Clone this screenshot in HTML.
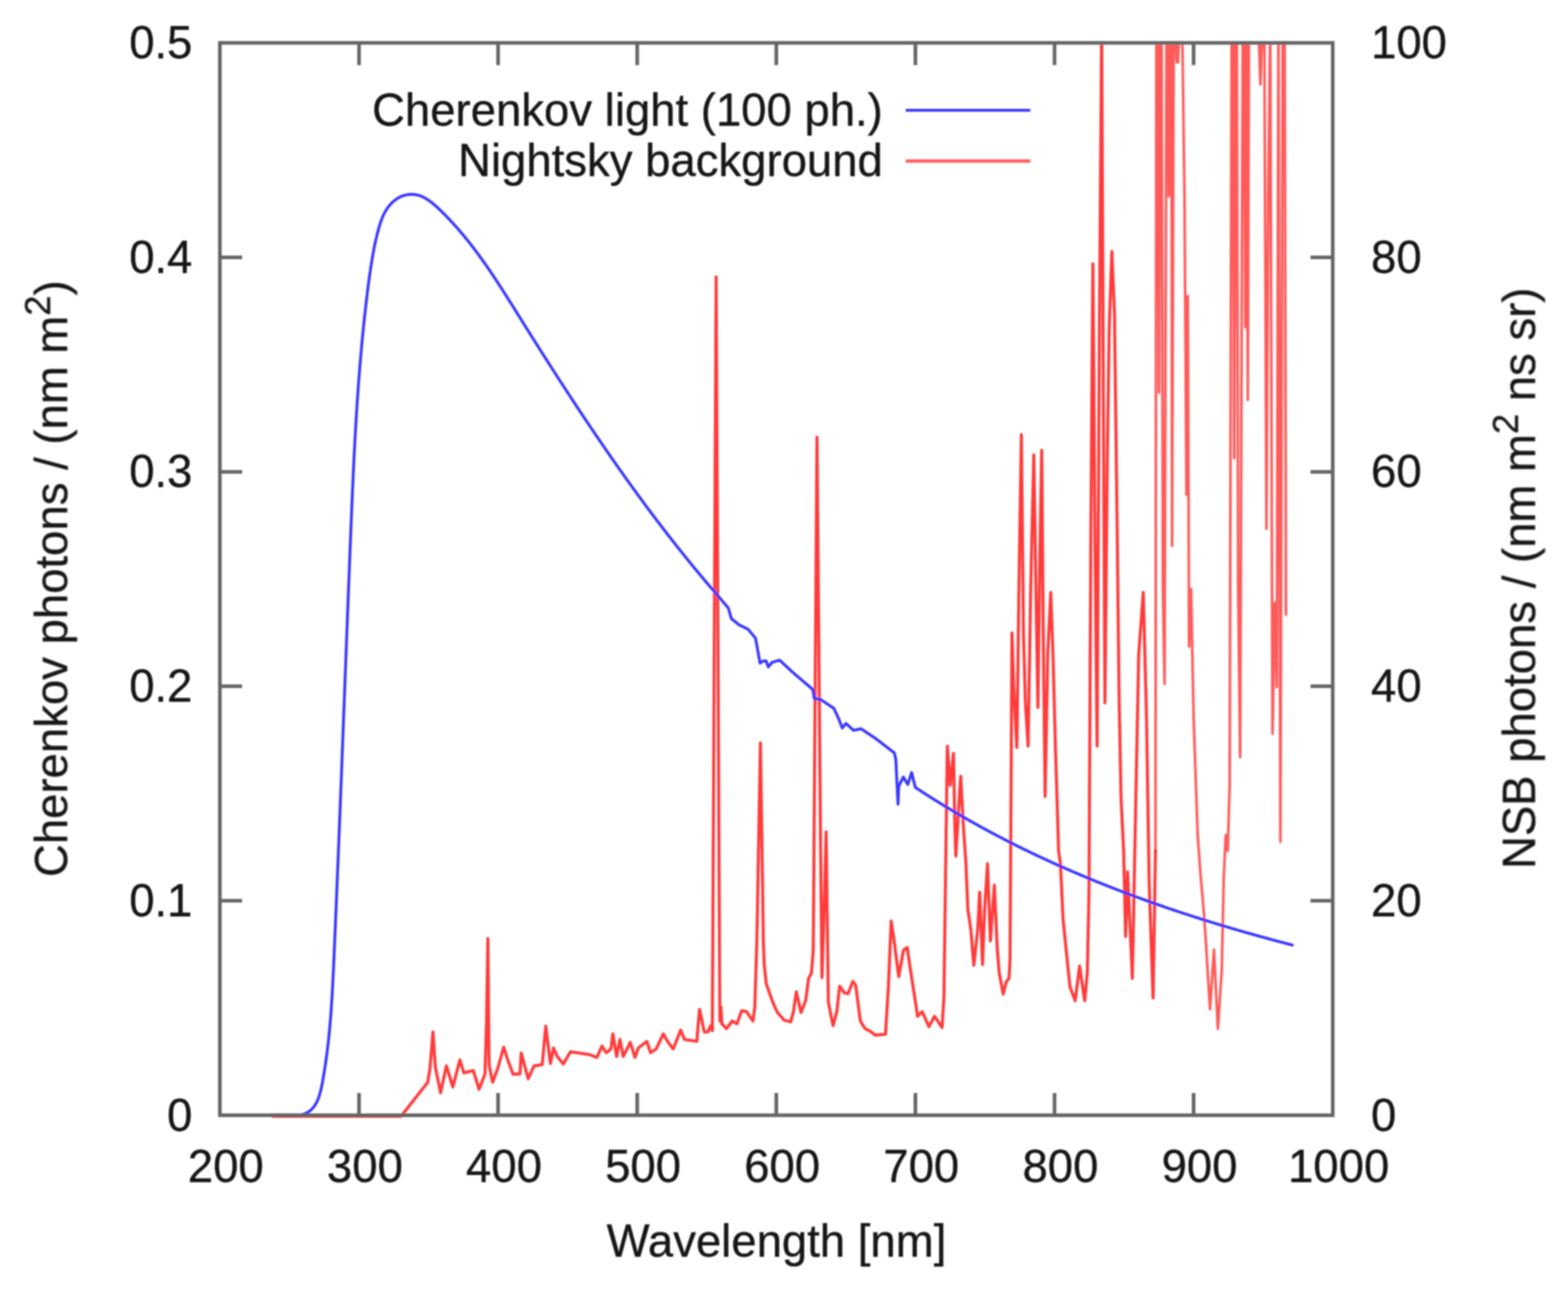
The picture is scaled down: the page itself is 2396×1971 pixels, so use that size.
<!DOCTYPE html>
<html><head><meta charset="utf-8"><title>Cherenkov light and nightsky background</title>
<style>
html,body{margin:0;padding:0;background:#fff;overflow:hidden;}
svg{display:block;}
text{font-family:"Liberation Sans",Arial,sans-serif;fill:#151515;stroke:#151515;stroke-width:0.5px;}
</style></head><body>
<svg width="2396" height="1971" viewBox="0 0 2396 1971">
<rect width="2396" height="1971" fill="#fff"/>
<defs><filter id="bl" x="0" y="0" width="2396" height="1971" filterUnits="userSpaceOnUse"><feGaussianBlur stdDeviation="1.2"/></filter><clipPath id="plot"><rect x="336.0" y="65.5" width="1700.5" height="1642.5"/></clipPath></defs>

<g filter="url(#bl)">
<g clip-path="url(#plot)" fill="none" stroke-linejoin="round" stroke-linecap="round">
<polyline points="417.0,1706.0 612.5,1706.0 653.6,1653.6 657.1,1632.0 661.6,1576.8 665.2,1630.4 673.2,1669.6 682.1,1628.6 692.0,1660.7 702.7,1619.6 708.9,1639.3 723.2,1635.7 732.1,1664.3 741.1,1641.0 743.5,1560.0 745.5,1433.9 747.3,1626.8 752.7,1653.6 760.7,1632.1 769.6,1600.0 775.9,1619.6 783.9,1641.1 794.6,1641.0 796.4,1608.9 807.1,1648.2 816.0,1628.6 828.6,1626.8 833.9,1567.9 841.1,1625.0 845.8,1601.2 851.5,1614.2 860.9,1625.7 871.7,1607.0 900.5,1611.3 912.0,1615.6 919.9,1598.3 926.4,1608.4 933.6,1602.7 936.5,1579.6 942.2,1614.2 947.3,1588.2 952.3,1614.2 963.1,1592.6 970.3,1615.6 975.4,1601.2 988.3,1591.1 994.1,1608.4 1002.7,1602.7 1013.5,1579.6 1020.0,1591.1 1028.7,1602.7 1040.2,1573.8 1045.9,1588.2 1064.7,1591.1 1069.0,1542.2 1076.2,1576.7 1081.9,1576.7 1085.8,1567.2 1088.5,1575.0 1094.3,423.0 1100.0,1560.0 1101.6,1538.4 1103.0,1564.3 1110.2,1571.5 1118.9,1560.0 1126.1,1564.3 1133.3,1544.2 1140.5,1545.6 1150.6,1560.0 1153.4,1538.4 1156.5,1437.6 1162.0,1135.0 1166.5,1440.0 1167.8,1473.6 1170.7,1502.4 1180.8,1531.2 1188.0,1547.0 1198.1,1558.6 1208.2,1561.4 1212.5,1545.6 1216.8,1515.4 1224.0,1547.0 1231.2,1528.3 1235.5,1495.2 1239.9,1486.6 1242.7,1452.0 1248.4,668.0 1254.0,1300.0 1256.0,1493.8 1259.0,1400.0 1262.4,1271.0 1265.8,1531.2 1273.0,1567.2 1278.7,1545.6 1283.0,1506.7 1290.2,1516.8 1296.0,1518.2 1303.2,1499.5 1307.5,1505.3 1314.7,1560.0 1321.9,1571.5 1330.0,1575.9 1337.3,1581.6 1353.1,1580.2 1357.4,1509.6 1361.8,1407.4 1366.1,1436.2 1373.3,1492.3 1380.5,1452.0 1386.2,1447.7 1390.6,1477.9 1397.8,1524.0 1402.1,1552.8 1409.3,1545.6 1419.4,1568.7 1428.0,1552.8 1439.5,1570.1 1442.4,1524.0 1445.3,1300.0 1447.6,1140.0 1452.0,1200.0 1457.0,1151.0 1459.0,1258.0 1460.5,1308.0 1464.0,1250.0 1468.0,1186.0 1472.0,1260.0 1476.0,1320.0 1479.0,1390.0 1483.5,1420.0 1488.0,1475.0 1494.0,1420.0 1497.0,1363.0 1501.4,1473.7 1504.4,1392.8 1509.0,1319.5 1513.4,1437.8 1519.4,1352.4 1523.9,1449.7 1526.9,1487.0 1532.9,1518.6 1537.4,1500.7 1541.9,1494.7 1543.4,1464.7 1546.4,967.0 1549.0,1050.0 1553.8,1142.0 1557.0,900.0 1560.7,664.0 1564.0,972.0 1567.0,1075.0 1571.0,1140.0 1575.0,900.0 1579.7,695.0 1583.0,900.0 1586.0,1081.0 1589.0,850.0 1591.8,688.0 1594.0,950.0 1597.0,1217.0 1601.0,1000.0 1605.6,905.0 1609.0,1000.0 1613.0,1150.0 1617.6,1300.0 1620.4,1320.0 1624.4,1404.0 1628.4,1444.0 1635.0,1508.0 1643.0,1529.0 1649.6,1476.0 1657.5,1529.0 1661.5,1486.0 1664.0,1365.0 1667.0,800.0 1670.0,403.0 1673.0,800.0 1676.4,1140.0 1680.0,500.0 1683.4,40.0 1686.0,600.0 1688.4,1074.0 1692.0,700.0 1695.0,500.0 1699.0,384.0 1703.0,480.0 1707.0,800.0 1710.0,1061.0 1713.0,1219.0 1717.0,1300.0 1720.0,1431.0 1723.0,1332.0 1727.0,1420.0 1730.3,1495.0 1736.0,1200.0 1740.0,1000.0 1747.0,905.0 1752.0,1100.0 1756.0,1350.0 1762.0,1525.0 1765.6,1300.0" stroke="#ff1c1c" stroke-width="4.6" stroke-opacity="0.88"/>
<polyline points="1765.6,1300.0 1767.0,40.0 1769.5,40.0 1771.0,600.0 1773.0,40.0 1775.0,40.0 1777.0,900.0 1779.5,1045.0 1781.0,500.0 1782.5,40.0 1784.5,40.0 1786.0,300.0 1787.4,40.0 1788.5,296.0 1790.0,40.0 1791.0,834.0 1793.5,40.0 1796.0,40.0 1798.0,95.0 1800.0,95.0 1802.0,40.0 1805.0,40.0 1807.0,76.0 1810.0,300.0 1813.0,756.0 1815.0,452.0 1817.0,988.0 1820.0,900.0 1824.0,1100.0 1830.0,1273.0 1834.0,1330.0 1840.0,1400.0 1843.0,1445.0 1849.0,1542.0 1855.0,1451.0 1861.0,1572.0 1867.0,1481.0 1870.0,1340.0 1873.0,1276.0 1876.0,1300.0 1879.0,1200.0 1882.0,40.0 1884.0,40.0 1886.0,700.0 1888.0,40.0 1890.0,40.0 1892.0,900.0 1895.0,1157.0 1897.0,600.0 1899.0,40.0 1901.0,40.0 1903.0,500.0 1905.0,40.0 1906.7,611.0 1908.5,40.0 1923.0,40.0 1926.0,129.0 1929.0,40.0 1932.0,40.0 1935.2,808.0 1938.0,300.0 1941.0,40.0 1944.5,1121.0 1948.0,921.0 1951.0,1050.0 1953.5,40.0 1956.5,1286.0 1960.0,40.0 1963.0,40.0 1965.0,939.0" stroke="#ff1c1c" stroke-width="4.0" stroke-opacity="0.72"/>
<polyline points="417.0,1703.8 418.0,1703.7 419.3,1703.8 420.7,1703.8 422.1,1703.8 423.6,1703.8 425.1,1703.8 426.6,1703.8 428.1,1703.8 429.7,1703.8 431.2,1703.8 432.8,1703.8 434.4,1703.8 436.1,1703.8 437.7,1703.8 439.3,1703.8 440.9,1703.8 442.6,1703.8 444.2,1703.8 445.9,1703.8 447.5,1703.8 449.1,1703.8 450.7,1703.8 452.3,1703.8 453.9,1703.8 455.4,1703.8 457.0,1703.8 458.5,1703.8 460.0,1703.6 461.4,1703.2 462.9,1702.7 464.2,1702.3 465.6,1701.7 466.9,1701.2 468.2,1700.6 469.4,1699.9 470.6,1699.2 471.8,1698.5 472.9,1697.7 473.9,1696.9 475.0,1696.1 475.9,1695.2 476.9,1694.2 477.8,1693.3 478.6,1692.3 479.5,1691.2 480.3,1690.2 481.0,1689.1 481.8,1687.9 482.5,1686.8 483.1,1685.6 483.8,1684.4 484.4,1683.1 485.0,1681.9 485.5,1680.6 486.1,1679.3 486.6,1677.9 487.1,1676.6 487.6,1675.2 488.0,1673.8 488.4,1672.4 488.8,1671.0 489.2,1669.5 489.6,1668.1 490.0,1666.6 490.3,1665.1 490.7,1663.7 491.0,1662.2 491.3,1660.7 491.6,1659.2 491.9,1657.7 492.2,1656.1 492.5,1654.6 492.8,1653.1 493.1,1651.6 493.3,1650.1 493.6,1648.6 493.9,1647.0 494.1,1645.5 494.4,1644.0 494.6,1642.5 494.9,1641.0 495.2,1639.5 495.4,1637.9 495.6,1636.4 495.9,1634.9 496.1,1633.4 496.4,1631.9 496.6,1630.4 496.8,1628.9 497.1,1627.3 497.3,1625.8 497.5,1624.3 497.7,1622.8 497.9,1621.3 498.1,1619.8 498.4,1618.3 498.6,1616.8 498.8,1615.3 499.0,1613.8 499.2,1612.2 499.4,1610.7 499.6,1609.2 499.8,1607.7 500.0,1606.2 500.1,1604.7 500.3,1603.2 500.5,1601.7 500.7,1600.2 500.9,1598.7 501.0,1597.2 501.2,1595.7 501.4,1594.2 501.6,1592.7 501.7,1591.2 501.9,1589.7 502.1,1588.2 502.2,1586.6 502.4,1585.1 502.5,1583.6 502.7,1582.1 502.8,1580.6 503.0,1579.1 503.1,1577.6 503.3,1576.1 503.4,1574.6 503.6,1573.1 503.7,1571.6 503.8,1570.1 504.0,1568.6 504.1,1567.1 504.2,1565.6 504.4,1564.1 504.5,1562.6 504.6,1561.1 504.8,1559.6 504.9,1558.1 505.0,1556.6 505.1,1555.1 505.2,1553.6 505.4,1552.1 505.5,1550.6 505.6,1549.1 505.7,1547.6 505.8,1546.2 505.9,1544.7 506.0,1543.2 506.1,1541.7 506.2,1540.2 506.3,1538.7 506.4,1537.2 506.5,1535.7 506.6,1534.2 506.7,1532.7 506.8,1531.2 506.9,1529.7 507.0,1528.2 507.1,1526.7 507.2,1525.2 507.3,1523.7 507.4,1522.2 507.5,1520.7 507.6,1519.2 507.7,1517.7 507.7,1516.2 507.8,1514.7 507.9,1513.3 508.0,1511.8 508.1,1510.3 508.2,1508.8 508.2,1507.3 508.3,1505.8 508.4,1504.3 508.5,1502.8 508.5,1501.3 508.6,1499.8 508.7,1498.3 508.8,1496.8 508.8,1495.3 508.9,1493.8 509.0,1492.3 509.1,1490.9 509.1,1489.4 509.2,1487.9 509.3,1486.4 509.4,1484.9 509.4,1483.4 509.5,1481.9 509.6,1480.4 509.6,1478.9 509.7,1477.4 509.8,1475.9 509.8,1474.4 509.9,1472.9 510.0,1471.4 510.0,1470.0 510.1,1468.5 510.2,1467.0 510.2,1465.5 510.3,1464.0 510.4,1462.5 510.4,1461.0 510.5,1459.5 510.6,1458.0 510.6,1456.5 510.7,1455.0 510.7,1453.5 510.8,1452.0 510.9,1450.5 510.9,1449.1 511.0,1447.6 511.1,1446.1 511.1,1444.6 511.2,1443.1 511.3,1441.6 511.3,1440.1 511.4,1438.6 511.5,1437.1 511.5,1435.6 511.6,1434.1 511.7,1432.6 511.7,1431.1 511.8,1429.6 511.8,1428.1 511.9,1426.7 512.0,1425.2 512.0,1423.7 512.1,1422.2 512.2,1420.7 512.2,1419.2 512.3,1417.7 512.4,1416.2 512.4,1414.7 512.5,1413.2 512.5,1411.7 512.6,1410.2 512.7,1408.7 512.7,1407.2 512.8,1405.7 512.9,1404.2 512.9,1402.7 513.0,1401.3 513.0,1399.8 513.1,1398.3 513.2,1396.8 513.2,1395.3 513.3,1393.8 513.4,1392.3 513.4,1390.8 513.5,1389.3 513.6,1387.8 513.6,1386.3 513.7,1384.8 513.7,1383.3 513.8,1381.8 513.9,1380.3 513.9,1378.8 514.0,1377.3 514.1,1375.8 514.1,1374.4 514.2,1372.9 514.2,1371.4 514.3,1369.9 514.4,1368.4 514.4,1366.9 514.5,1365.4 514.5,1363.9 514.6,1362.4 514.7,1360.9 514.7,1359.4 514.8,1357.9 514.9,1356.4 514.9,1354.9 515.0,1353.4 515.0,1351.9 515.1,1350.4 515.2,1348.9 515.2,1347.4 515.3,1345.9 515.3,1344.4 515.4,1343.0 515.5,1341.5 515.5,1340.0 515.6,1338.5 515.7,1337.0 515.7,1335.5 515.8,1334.0 515.8,1332.5 515.9,1331.0 516.0,1329.5 516.0,1328.0 516.1,1326.5 516.1,1325.0 516.2,1323.5 516.3,1322.0 516.3,1320.5 516.4,1319.0 516.4,1317.5 516.5,1316.0 516.6,1314.5 516.6,1313.0 516.7,1311.5 516.7,1310.0 516.8,1308.6 516.9,1307.1 516.9,1305.6 517.0,1304.1 517.0,1302.6 517.1,1301.1 517.2,1299.6 517.2,1298.1 517.3,1296.6 517.3,1295.1 517.4,1293.6 517.5,1292.1 517.5,1290.6 517.6,1289.1 517.6,1287.6 517.7,1286.1 517.8,1284.6 517.8,1283.1 517.9,1281.6 517.9,1280.1 518.0,1278.6 518.1,1277.1 518.1,1275.6 518.2,1274.1 518.2,1272.6 518.3,1271.1 518.4,1269.6 518.4,1268.1 518.5,1266.7 518.5,1265.2 518.6,1263.7 518.7,1262.2 518.7,1260.7 518.8,1259.2 518.8,1257.7 518.9,1256.2 519.0,1254.7 519.0,1253.2 519.1,1251.7 519.1,1250.2 519.2,1248.7 519.2,1247.2 519.3,1245.7 519.4,1244.2 519.4,1242.7 519.5,1241.2 519.5,1239.7 519.6,1238.2 519.7,1236.7 519.7,1235.2 519.8,1233.7 519.8,1232.2 519.9,1230.7 520.0,1229.2 520.0,1227.7 520.1,1226.2 520.1,1224.7 520.2,1223.2 520.2,1221.7 520.3,1220.2 520.4,1218.7 520.4,1217.2 520.5,1215.7 520.5,1214.2 520.6,1212.8 520.7,1211.3 520.7,1209.8 520.8,1208.3 520.8,1206.8 520.9,1205.3 520.9,1203.8 521.0,1202.3 521.1,1200.8 521.1,1199.3 521.2,1197.8 521.2,1196.3 521.3,1194.8 521.4,1193.3 521.4,1191.8 521.5,1190.3 521.5,1188.8 521.6,1187.3 521.6,1185.8 521.7,1184.3 521.8,1182.8 521.8,1181.3 521.9,1179.8 521.9,1178.3 522.0,1176.8 522.0,1175.3 522.1,1173.8 522.2,1172.3 522.2,1170.8 522.3,1169.3 522.3,1167.8 522.4,1166.3 522.4,1164.8 522.5,1163.3 522.6,1161.8 522.6,1160.3 522.7,1158.8 522.7,1157.3 522.8,1155.8 522.9,1154.3 522.9,1152.8 523.0,1151.3 523.0,1149.8 523.1,1148.3 523.1,1146.8 523.2,1145.3 523.3,1143.8 523.3,1142.3 523.4,1140.8 523.4,1139.3 523.5,1137.8 523.5,1136.4 523.6,1134.9 523.7,1133.4 523.7,1131.9 523.8,1130.4 523.8,1128.9 523.9,1127.4 523.9,1125.9 524.0,1124.4 524.1,1122.9 524.1,1121.4 524.2,1119.9 524.2,1118.4 524.3,1116.9 524.3,1115.4 524.4,1113.9 524.5,1112.4 524.5,1110.9 524.6,1109.4 524.6,1107.9 524.7,1106.4 524.7,1104.9 524.8,1103.4 524.9,1101.9 524.9,1100.4 525.0,1098.9 525.0,1097.4 525.1,1095.9 525.1,1094.4 525.2,1092.9 525.3,1091.4 525.3,1089.9 525.4,1088.4 525.4,1086.9 525.5,1085.4 525.5,1083.9 525.6,1082.4 525.7,1080.9 525.7,1079.4 525.8,1077.9 525.8,1076.4 525.9,1074.9 525.9,1073.4 526.0,1071.9 526.1,1070.4 526.1,1068.9 526.2,1067.4 526.2,1065.9 526.3,1064.4 526.3,1062.9 526.4,1061.4 526.5,1059.9 526.5,1058.4 526.6,1056.9 526.6,1055.4 526.7,1053.9 526.7,1052.4 526.8,1050.9 526.9,1049.4 526.9,1047.9 527.0,1046.4 527.0,1044.9 527.1,1043.4 527.1,1041.9 527.2,1040.4 527.3,1038.9 527.3,1037.4 527.4,1035.9 527.4,1034.4 527.5,1032.9 527.5,1031.4 527.6,1029.9 527.7,1028.4 527.7,1026.9 527.8,1025.4 527.8,1023.9 527.9,1022.4 527.9,1020.9 528.0,1019.4 528.1,1017.9 528.1,1016.4 528.2,1014.9 528.2,1013.4 528.3,1011.9 528.3,1010.4 528.4,1008.9 528.5,1007.4 528.5,1005.9 528.6,1004.4 528.6,1002.9 528.7,1001.4 528.7,999.9 528.8,998.4 528.9,996.9 528.9,995.4 529.0,993.9 529.0,992.4 529.1,990.9 529.1,989.4 529.2,987.9 529.3,986.4 529.3,984.9 529.4,983.4 529.4,981.9 529.5,980.4 529.6,978.9 529.6,977.4 529.7,975.9 529.7,974.4 529.8,972.9 529.8,971.4 529.9,969.9 530.0,968.4 530.0,966.9 530.1,965.5 530.1,964.0 530.2,962.5 530.2,961.0 530.3,959.5 530.4,958.0 530.4,956.5 530.5,955.0 530.5,953.5 530.6,952.0 530.6,950.5 530.7,949.0 530.8,947.5 530.8,946.0 530.9,944.5 530.9,943.0 531.0,941.5 531.0,940.0 531.1,938.5 531.2,937.0 531.2,935.5 531.3,934.0 531.3,932.5 531.4,931.0 531.5,929.5 531.5,928.0 531.6,926.5 531.6,925.0 531.7,923.5 531.7,922.0 531.8,920.5 531.9,919.0 531.9,917.5 532.0,916.0 532.0,914.5 532.1,913.0 532.1,911.5 532.2,910.0 532.3,908.5 532.3,907.0 532.4,905.5 532.4,904.0 532.5,902.5 532.6,901.0 532.6,899.5 532.7,898.0 532.7,896.5 532.8,895.0 532.8,893.5 532.9,892.0 533.0,890.5 533.0,889.0 533.1,887.5 533.1,886.0 533.2,884.5 533.3,883.0 533.3,881.5 533.4,880.0 533.4,878.5 533.5,877.0 533.6,875.5 533.6,874.0 533.7,872.5 533.7,871.0 533.8,869.5 533.8,868.0 533.9,866.5 534.0,865.0 534.0,863.5 534.1,862.0 534.1,860.5 534.2,859.0 534.3,857.5 534.3,856.0 534.4,854.5 534.4,853.0 534.5,851.5 534.6,850.0 534.6,848.5 534.7,847.0 534.7,845.5 534.8,844.0 534.8,842.5 534.9,841.0 535.0,839.5 535.0,838.0 535.1,836.5 535.1,835.0 535.2,833.5 535.3,832.0 535.3,830.5 535.4,829.0 535.4,827.5 535.5,826.0 535.6,824.5 535.6,823.0 535.7,821.5 535.7,820.0 535.8,818.5 535.9,817.0 535.9,815.5 536.0,814.0 536.0,812.5 536.1,811.0 536.2,809.5 536.2,808.0 536.3,806.5 536.3,805.0 536.4,803.5 536.5,802.0 536.5,800.5 536.6,799.0 536.6,797.5 536.7,796.0 536.8,794.5 536.8,793.0 536.9,791.5 537.0,790.0 537.0,788.5 537.1,787.0 537.1,785.5 537.2,784.0 537.3,782.5 537.3,781.0 537.4,779.5 537.4,778.0 537.5,776.5 537.6,775.0 537.6,773.5 537.7,772.0 537.8,770.5 537.8,769.0 537.9,767.5 537.9,766.0 538.0,764.5 538.1,763.0 538.1,761.5 538.2,760.0 538.3,758.5 538.3,757.0 538.4,755.5 538.5,754.0 538.5,752.5 538.6,751.0 538.7,749.5 538.7,748.0 538.8,746.5 538.9,745.0 538.9,743.5 539.0,742.0 539.1,740.5 539.1,739.0 539.2,737.5 539.3,736.0 539.3,734.5 539.4,733.0 539.5,731.5 539.5,730.0 539.6,728.5 539.7,727.1 539.7,725.6 539.8,724.1 539.9,722.6 539.9,721.1 540.0,719.6 540.1,718.1 540.2,716.6 540.2,715.1 540.3,713.6 540.4,712.1 540.4,710.6 540.5,709.1 540.6,707.6 540.7,706.1 540.7,704.6 540.8,703.1 540.9,701.6 541.0,700.1 541.0,698.6 541.1,697.1 541.2,695.6 541.3,694.1 541.3,692.6 541.4,691.1 541.5,689.6 541.6,688.1 541.6,686.6 541.7,685.1 541.8,683.6 541.9,682.1 542.0,680.6 542.0,679.1 542.1,677.6 542.2,676.1 542.3,674.6 542.3,673.1 542.4,671.6 542.5,670.1 542.6,668.6 542.7,667.2 542.8,665.7 542.8,664.2 542.9,662.7 543.0,661.2 543.1,659.7 543.2,658.2 543.3,656.7 543.4,655.2 543.4,653.7 543.5,652.2 543.6,650.7 543.7,649.2 543.8,647.7 543.9,646.2 544.0,644.7 544.1,643.2 544.1,641.7 544.2,640.2 544.3,638.7 544.4,637.2 544.5,635.7 544.6,634.2 544.7,632.7 544.8,631.3 544.9,629.8 545.0,628.3 545.1,626.8 545.2,625.3 545.3,623.8 545.4,622.3 545.5,620.8 545.5,619.3 545.6,617.8 545.7,616.3 545.8,614.8 545.9,613.3 546.0,611.8 546.1,610.3 546.2,608.8 546.3,607.3 546.5,605.8 546.6,604.4 546.7,602.9 546.8,601.4 546.9,599.9 547.0,598.4 547.1,596.9 547.2,595.4 547.3,593.9 547.4,592.4 547.5,590.9 547.6,589.4 547.7,587.9 547.8,586.4 547.9,584.9 548.1,583.4 548.2,582.0 548.3,580.5 548.4,579.0 548.5,577.5 548.6,576.0 548.7,574.5 548.9,573.0 549.0,571.5 549.1,570.0 549.2,568.5 549.3,567.0 549.4,565.5 549.6,564.0 549.7,562.6 549.8,561.1 549.9,559.6 550.0,558.1 550.2,556.6 550.3,555.1 550.4,553.6 550.5,552.1 550.7,550.6 550.8,549.1 550.9,547.6 551.0,546.2 551.2,544.7 551.3,543.2 551.4,541.7 551.6,540.2 551.7,538.7 551.8,537.2 552.0,535.7 552.1,534.2 552.2,532.7 552.4,531.3 552.5,529.8 552.6,528.3 552.8,526.8 552.9,525.3 553.1,523.8 553.2,522.3 553.3,520.8 553.5,519.3 553.6,517.8 553.8,516.4 553.9,514.9 554.0,513.4 554.2,511.9 554.3,510.4 554.5,508.9 554.6,507.4 554.8,505.9 554.9,504.5 555.1,503.0 555.2,501.5 555.4,500.0 555.5,498.5 555.7,497.0 555.8,495.5 556.0,494.0 556.2,492.6 556.3,491.1 556.5,489.6 556.6,488.1 556.8,486.6 556.9,485.1 557.1,483.6 557.3,482.1 557.4,480.7 557.6,479.2 557.8,477.7 557.9,476.2 558.1,474.7 558.3,473.2 558.4,471.7 558.6,470.3 558.8,468.8 558.9,467.3 559.1,465.8 559.3,464.3 559.5,462.8 559.6,461.3 559.8,459.9 560.0,458.4 560.2,456.9 560.3,455.4 560.5,453.9 560.7,452.4 560.9,451.0 561.1,449.5 561.2,448.0 561.4,446.5 561.6,445.0 561.8,443.5 562.0,442.1 562.2,440.6 562.4,439.1 562.5,437.6 562.7,436.1 562.9,434.6 563.1,433.2 563.3,431.7 563.5,430.2 563.7,428.7 563.9,427.2 564.1,425.7 564.3,424.3 564.5,422.8 564.7,421.3 564.9,419.8 565.1,418.3 565.3,416.9 565.6,415.4 565.8,413.9 566.0,412.4 566.2,410.9 566.4,409.5 566.7,408.0 566.9,406.5 567.1,405.0 567.3,403.5 567.6,402.0 567.8,400.6 568.1,399.1 568.3,397.6 568.6,396.1 568.8,394.6 569.1,393.2 569.3,391.7 569.6,390.2 569.8,388.7 570.1,387.2 570.4,385.7 570.7,384.3 571.0,382.8 571.2,381.3 571.5,379.8 571.8,378.3 572.1,376.9 572.4,375.4 572.7,373.9 573.0,372.4 573.4,370.9 573.7,369.4 574.0,368.0 574.3,366.5 574.7,365.0 575.0,363.5 575.4,362.0 575.7,360.5 576.1,359.1 576.4,357.6 576.8,356.1 577.2,354.6 577.6,353.1 578.0,351.6 578.4,350.1 578.8,348.7 579.2,347.2 579.6,345.7 580.1,344.3 580.5,342.8 581.0,341.3 581.5,339.9 582.0,338.5 582.5,337.0 583.0,335.6 583.6,334.2 584.1,332.8 584.7,331.4 585.3,330.0 585.9,328.7 586.6,327.3 587.3,326.0 588.0,324.7 588.7,323.4 589.4,322.1 590.2,320.8 591.0,319.5 591.9,318.3 592.7,317.1 593.6,315.9 594.5,314.7 595.5,313.6 596.5,312.4 597.5,311.3 598.5,310.3 599.6,309.2 600.7,308.2 601.8,307.2 603.0,306.3 604.2,305.4 605.4,304.5 606.6,303.6 607.9,302.9 609.2,302.1 610.5,301.4 611.8,300.7 613.1,300.1 614.5,299.6 615.9,299.1 617.3,298.6 618.7,298.2 620.1,297.9 621.5,297.6 623.0,297.4 624.4,297.2 625.9,297.0 627.3,297.0 628.8,296.9 630.2,297.0 631.7,297.0 633.1,297.2 634.5,297.4 636.0,297.6 637.4,297.9 638.7,298.2 640.1,298.6 641.5,299.0 642.8,299.5 644.1,300.0 645.4,300.6 646.7,301.2 648.0,301.8 649.3,302.5 650.6,303.2 651.8,304.0 653.1,304.8 654.3,305.6 655.5,306.4 656.7,307.3 657.9,308.2 659.1,309.1 660.3,310.0 661.5,311.0 662.6,312.0 663.8,312.9 664.9,314.0 666.1,315.0 667.2,316.0 668.3,317.0 669.5,318.1 670.6,319.2 671.7,320.2 672.8,321.3 673.9,322.3 675.0,323.4 676.1,324.5 677.2,325.6 678.2,326.7 679.3,327.7 680.4,328.8 681.5,329.9 682.5,331.0 683.6,332.1 684.7,333.2 685.7,334.3 686.8,335.4 687.8,336.5 688.8,337.6 689.9,338.7 690.9,339.8 691.9,340.9 693.0,342.1 694.0,343.2 695.0,344.3 696.0,345.4 697.0,346.6 698.0,347.7 699.0,348.8 700.0,350.0 701.0,351.1 702.0,352.3 703.0,353.4 703.9,354.5 704.9,355.7 705.9,356.8 706.9,358.0 707.8,359.2 708.8,360.3 709.7,361.5 710.7,362.6 711.6,363.8 712.6,365.0 713.5,366.1 714.5,367.3 715.4,368.5 716.4,369.6 717.3,370.8 718.2,372.0 719.1,373.2 720.1,374.4 721.0,375.6 721.9,376.7 722.8,377.9 723.7,379.1 724.6,380.3 725.5,381.5 726.4,382.7 727.3,383.9 728.2,385.1 729.1,386.3 730.0,387.5 730.9,388.7 731.8,389.9 732.7,391.1 733.6,392.3 734.4,393.6 735.3,394.8 736.2,396.0 737.0,397.2 737.9,398.4 738.8,399.6 739.6,400.9 740.5,402.1 741.4,403.3 742.2,404.5 743.1,405.8 743.9,407.0 744.8,408.2 745.6,409.4 746.5,410.7 747.3,411.9 748.2,413.1 749.0,414.4 749.8,415.6 750.7,416.9 751.5,418.1 752.3,419.3 753.2,420.6 754.0,421.8 754.8,423.1 755.7,424.3 756.5,425.6 757.3,426.8 758.1,428.1 759.0,429.3 759.8,430.5 760.6,431.8 761.4,433.1 762.2,434.3 763.0,435.6 763.9,436.8 764.7,438.1 765.5,439.3 766.3,440.6 767.1,441.8 767.9,443.1 768.7,444.4 769.5,445.6 770.3,446.9 771.1,448.1 771.9,449.4 772.7,450.7 773.5,451.9 774.3,453.2 775.1,454.5 775.9,455.7 776.7,457.0 777.5,458.2 778.3,459.5 779.1,460.8 779.9,462.0 780.7,463.3 781.5,464.6 782.3,465.8 783.1,467.1 783.9,468.4 784.7,469.6 785.5,470.9 786.3,472.2 787.1,473.5 787.9,474.7 788.6,476.0 789.4,477.3 790.2,478.5 791.0,479.8 791.8,481.1 792.6,482.3 793.4,483.6 794.2,484.9 795.0,486.1 795.8,487.4 796.6,488.7 797.4,490.0 798.2,491.2 799.0,492.5 799.8,493.8 800.5,495.0 801.3,496.3 802.1,497.6 802.9,498.8 803.7,500.1 804.5,501.4 805.3,502.6 806.1,503.9 806.9,505.2 807.7,506.4 808.5,507.7 809.3,509.0 810.1,510.3 810.9,511.5 811.7,512.8 812.5,514.1 813.3,515.3 814.1,516.6 814.9,517.9 815.7,519.1 816.5,520.4 817.3,521.7 818.1,522.9 818.9,524.2 819.7,525.5 820.5,526.7 821.3,528.0 822.1,529.3 822.9,530.5 823.7,531.8 824.5,533.1 825.3,534.3 826.1,535.6 826.9,536.9 827.7,538.1 828.5,539.4 829.3,540.7 830.1,541.9 830.9,543.2 831.7,544.4 832.5,545.7 833.3,547.0 834.1,548.2 835.0,549.5 835.8,550.8 836.6,552.0 837.4,553.3 838.2,554.6 839.0,555.8 839.8,557.1 840.6,558.3 841.4,559.6 842.2,560.9 843.0,562.1 843.8,563.4 844.6,564.7 845.5,565.9 846.3,567.2 847.1,568.4 847.9,569.7 848.7,571.0 849.5,572.2 850.3,573.5 851.1,574.7 851.9,576.0 852.8,577.3 853.6,578.5 854.4,579.8 855.2,581.0 856.0,582.3 856.8,583.6 857.6,584.8 858.5,586.1 859.3,587.3 860.1,588.6 860.9,589.9 861.7,591.1 862.5,592.4 863.4,593.6 864.2,594.9 865.0,596.1 865.8,597.4 866.6,598.7 867.5,599.9 868.3,601.2 869.1,602.4 869.9,603.7 870.7,604.9 871.6,606.2 872.4,607.4 873.2,608.7 874.0,610.0 874.8,611.2 875.7,612.5 876.5,613.7 877.3,615.0 878.1,616.2 879.0,617.5 879.8,618.7 880.6,620.0 881.4,621.2 882.3,622.5 883.1,623.7 883.9,625.0 884.8,626.2 885.6,627.5 886.4,628.7 887.2,630.0 888.1,631.2 888.9,632.5 889.7,633.7 890.6,635.0 891.4,636.2 892.2,637.5 893.1,638.7 893.9,640.0 894.7,641.2 895.6,642.5 896.4,643.7 897.2,645.0 898.1,646.2 898.9,647.5 899.7,648.7 900.6,649.9 901.4,651.2 902.2,652.4 903.1,653.7 903.9,654.9 904.8,656.2 905.6,657.4 906.4,658.7 907.3,659.9 908.1,661.1 909.0,662.4 909.8,663.6 910.6,664.9 911.5,666.1 912.3,667.3 913.2,668.6 914.0,669.8 914.9,671.1 915.7,672.3 916.5,673.5 917.4,674.8 918.2,676.0 919.1,677.3 919.9,678.5 920.8,679.7 921.6,681.0 922.5,682.2 923.3,683.4 924.2,684.7 925.0,685.9 925.9,687.2 926.7,688.4 927.6,689.6 928.4,690.9 929.3,692.1 930.1,693.3 931.0,694.6 931.8,695.8 932.7,697.0 933.6,698.3 934.4,699.5 935.3,700.7 936.1,701.9 937.0,703.2 937.8,704.4 938.7,705.6 939.6,706.9 940.4,708.1 941.3,709.3 942.1,710.5 943.0,711.8 943.9,713.0 944.7,714.2 945.6,715.5 946.5,716.7 947.3,717.9 948.2,719.1 949.1,720.4 949.9,721.6 950.8,722.8 951.7,724.0 952.5,725.2 953.4,726.5 954.3,727.7 955.1,728.9 956.0,730.1 956.9,731.4 957.7,732.6 958.6,733.8 959.5,735.0 960.4,736.2 961.2,737.4 962.1,738.7 963.0,739.9 963.9,741.1 964.7,742.3 965.6,743.5 966.5,744.7 967.4,746.0 968.2,747.2 969.1,748.4 970.0,749.6 970.9,750.8 971.8,752.0 972.7,753.2 973.5,754.5 974.4,755.7 975.3,756.9 976.2,758.1 977.1,759.3 978.0,760.5 978.8,761.7 979.7,762.9 980.6,764.1 981.5,765.3 982.4,766.5 983.3,767.8 984.2,769.0 985.1,770.2 986.0,771.4 986.8,772.6 987.7,773.8 988.6,775.0 989.5,776.2 990.4,777.4 991.3,778.6 992.2,779.8 993.1,781.0 994.0,782.2 994.9,783.4 995.8,784.6 996.7,785.8 997.6,787.0 998.5,788.2 999.4,789.4 1000.3,790.6 1001.2,791.8 1002.1,793.0 1003.0,794.2 1003.9,795.4 1004.8,796.5 1005.7,797.7 1006.6,798.9 1007.6,800.1 1008.5,801.3 1009.4,802.5 1010.3,803.7 1011.2,804.9 1012.1,806.1 1013.0,807.3 1013.9,808.5 1014.8,809.6 1015.8,810.8 1016.7,812.0 1017.6,813.2 1018.5,814.4 1019.4,815.6 1020.3,816.8 1021.3,817.9 1022.2,819.1 1023.1,820.3 1024.0,821.5 1024.9,822.7 1025.9,823.9 1026.8,825.0 1027.7,826.2 1028.6,827.4 1029.6,828.6 1030.5,829.7 1031.4,830.9 1032.3,832.1 1033.3,833.3 1034.2,834.5 1035.1,835.6 1036.1,836.8 1037.0,838.0 1037.9,839.1 1038.9,840.3 1039.8,841.5 1040.7,842.7 1041.7,843.8 1042.6,845.0 1043.5,846.2 1044.5,847.3 1045.4,848.5 1046.3,849.7 1047.3,850.8 1048.2,852.0 1049.2,853.2 1050.1,854.3 1051.1,855.5 1052.0,856.7 1052.9,857.8 1053.9,859.0 1054.8,860.2 1055.8,861.3 1056.7,862.5 1057.7,863.6 1058.6,864.8 1059.6,865.9 1060.5,867.1 1061.5,868.3 1062.4,869.4 1063.4,870.6 1064.3,871.7 1065.3,872.9 1066.3,874.0 1067.2,875.2 1068.2,876.3 1069.1,877.5 1070.1,878.6 1071.1,879.8 1072.0,880.9 1073.0,882.1 1073.9,883.2 1074.9,884.4 1075.9,885.5 1076.8,886.7 1077.8,887.8 1078.8,889.0 1079.7,890.1 1080.7,891.3 1081.7,892.4 1082.6,893.5 1083.6,894.7 1084.6,895.8 1085.6,897.0 1086.5,898.1 1087.6,899.2 1113.0,929.1 1117.6,945.3 1129.1,954.5 1143.0,961.4 1154.5,975.2 1159.1,1000.6 1161.4,1013.2 1166.0,1010.0 1170.6,1009.8 1174.0,1019.0 1179.8,1012.0 1191.3,1008.6 1209.8,1025.9 1242.0,1053.5 1244.3,1067.4 1253.5,1068.5 1274.3,1082.4 1281.2,1097.3 1287.0,1112.3 1292.7,1105.4 1304.2,1115.8 1315.8,1113.5 1336.5,1127.3 1366.5,1150.3 1368.8,1159.5 1372.2,1228.7 1373.4,1201.0 1380.3,1187.2 1387.2,1198.7 1393.0,1180.3 1398.7,1203.3 1400.0,1203.9 1401.2,1204.8 1402.5,1205.6 1403.8,1206.4 1405.0,1207.2 1406.3,1208.0 1407.5,1208.9 1408.8,1209.7 1410.0,1210.5 1411.3,1211.3 1412.6,1212.1 1413.8,1212.9 1415.1,1213.8 1416.4,1214.6 1417.6,1215.4 1418.9,1216.2 1420.2,1217.0 1421.4,1217.8 1422.7,1218.6 1424.0,1219.4 1425.2,1220.2 1426.5,1221.0 1427.8,1221.8 1429.0,1222.6 1430.3,1223.4 1431.6,1224.2 1432.9,1225.0 1434.1,1225.7 1435.4,1226.5 1436.7,1227.3 1438.0,1228.1 1439.2,1228.9 1440.5,1229.7 1441.8,1230.4 1443.1,1231.2 1444.4,1232.0 1445.6,1232.8 1446.9,1233.6 1448.2,1234.3 1449.5,1235.1 1450.8,1235.9 1452.1,1236.6 1453.3,1237.4 1454.6,1238.2 1455.9,1238.9 1457.2,1239.7 1458.5,1240.5 1459.8,1241.2 1461.1,1242.0 1462.4,1242.7 1463.7,1243.5 1465.0,1244.3 1466.2,1245.0 1467.5,1245.8 1468.8,1246.5 1470.1,1247.3 1471.4,1248.0 1472.7,1248.8 1474.0,1249.5 1475.3,1250.3 1476.6,1251.0 1477.9,1251.7 1479.2,1252.5 1480.5,1253.2 1481.8,1254.0 1483.1,1254.7 1484.4,1255.4 1485.7,1256.2 1487.0,1256.9 1488.3,1257.6 1489.7,1258.4 1491.0,1259.1 1492.3,1259.8 1493.6,1260.5 1494.9,1261.3 1496.2,1262.0 1497.5,1262.7 1498.8,1263.4 1500.1,1264.2 1501.4,1264.9 1502.8,1265.6 1504.1,1266.3 1505.4,1267.0 1506.7,1267.7 1508.0,1268.4 1509.3,1269.2 1510.7,1269.9 1512.0,1270.6 1513.3,1271.3 1514.6,1272.0 1515.9,1272.7 1517.3,1273.4 1518.6,1274.1 1519.9,1274.8 1521.2,1275.5 1522.5,1276.2 1523.9,1276.9 1525.2,1277.6 1526.5,1278.3 1527.8,1279.0 1529.2,1279.6 1530.5,1280.3 1531.8,1281.0 1533.2,1281.7 1534.5,1282.4 1535.8,1283.1 1537.1,1283.8 1538.5,1284.4 1539.8,1285.1 1541.1,1285.8 1542.5,1286.5 1543.8,1287.2 1545.1,1287.8 1546.5,1288.5 1547.8,1289.2 1549.2,1289.9 1550.5,1290.5 1551.8,1291.2 1553.2,1291.9 1554.5,1292.5 1555.8,1293.2 1557.2,1293.9 1558.5,1294.5 1559.9,1295.2 1561.2,1295.8 1562.5,1296.5 1563.9,1297.2 1565.2,1297.8 1566.6,1298.5 1567.9,1299.1 1569.3,1299.8 1570.6,1300.4 1572.0,1301.1 1573.3,1301.7 1574.7,1302.4 1576.0,1303.0 1577.4,1303.7 1578.7,1304.3 1580.1,1305.0 1581.4,1305.6 1582.8,1306.2 1584.1,1306.9 1585.5,1307.5 1586.8,1308.2 1588.2,1308.8 1589.5,1309.4 1590.9,1310.1 1592.2,1310.7 1593.6,1311.3 1595.0,1312.0 1596.3,1312.6 1597.7,1313.2 1599.0,1313.8 1600.4,1314.5 1601.7,1315.1 1603.1,1315.7 1604.5,1316.3 1605.8,1317.0 1607.2,1317.6 1608.5,1318.2 1609.9,1318.8 1611.3,1319.4 1612.6,1320.0 1614.0,1320.7 1615.4,1321.3 1616.7,1321.9 1618.1,1322.5 1619.5,1323.1 1620.8,1323.7 1622.2,1324.3 1623.6,1324.9 1624.9,1325.5 1626.3,1326.1 1627.7,1326.7 1629.0,1327.3 1630.4,1327.9 1631.8,1328.5 1633.2,1329.1 1634.5,1329.7 1635.9,1330.3 1637.3,1330.9 1638.7,1331.5 1640.0,1332.1 1641.4,1332.7 1642.8,1333.3 1644.2,1333.9 1645.5,1334.4 1646.9,1335.0 1648.3,1335.6 1649.7,1336.2 1651.0,1336.8 1652.4,1337.4 1653.8,1337.9 1655.2,1338.5 1656.6,1339.1 1657.9,1339.7 1659.3,1340.3 1660.7,1340.8 1662.1,1341.4 1663.5,1342.0 1664.9,1342.5 1666.2,1343.1 1667.6,1343.7 1669.0,1344.3 1670.4,1344.8 1671.8,1345.4 1673.2,1346.0 1674.5,1346.5 1675.9,1347.1 1677.3,1347.6 1678.7,1348.2 1680.1,1348.8 1681.5,1349.3 1682.9,1349.9 1684.3,1350.4 1685.7,1351.0 1687.0,1351.5 1688.4,1352.1 1689.8,1352.6 1691.2,1353.2 1692.6,1353.7 1694.0,1354.3 1695.4,1354.8 1696.8,1355.4 1698.2,1355.9 1699.6,1356.5 1701.0,1357.0 1702.4,1357.6 1703.8,1358.1 1705.2,1358.6 1706.6,1359.2 1708.0,1359.7 1709.4,1360.3 1710.8,1360.8 1712.2,1361.3 1713.6,1361.9 1715.0,1362.4 1716.4,1362.9 1717.8,1363.5 1719.2,1364.0 1720.6,1364.5 1722.0,1365.1 1723.4,1365.6 1724.8,1366.1 1726.2,1366.6 1727.6,1367.2 1729.0,1367.7 1730.4,1368.2 1731.8,1368.7 1733.2,1369.2 1734.6,1369.8 1736.0,1370.3 1737.4,1370.8 1738.8,1371.3 1740.2,1371.8 1741.6,1372.3 1743.0,1372.8 1744.4,1373.4 1745.8,1373.9 1747.2,1374.4 1748.7,1374.9 1750.1,1375.4 1751.5,1375.9 1752.9,1376.4 1754.3,1376.9 1755.7,1377.4 1757.1,1377.9 1758.5,1378.4 1759.9,1378.9 1761.4,1379.4 1762.8,1379.9 1764.2,1380.4 1765.6,1380.9 1767.0,1381.4 1768.4,1381.9 1769.8,1382.4 1771.2,1382.9 1772.7,1383.4 1774.1,1383.9 1775.5,1384.4 1776.9,1384.9 1778.3,1385.3 1779.7,1385.8 1781.2,1386.3 1782.6,1386.8 1784.0,1387.3 1785.4,1387.8 1786.8,1388.2 1788.2,1388.7 1789.7,1389.2 1791.1,1389.7 1792.5,1390.2 1793.9,1390.6 1795.3,1391.1 1796.8,1391.6 1798.2,1392.1 1799.6,1392.5 1801.0,1393.0 1802.4,1393.5 1803.9,1394.0 1805.3,1394.4 1806.7,1394.9 1808.1,1395.4 1809.6,1395.8 1811.0,1396.3 1812.4,1396.8 1813.8,1397.2 1815.3,1397.7 1816.7,1398.2 1818.1,1398.6 1819.5,1399.1 1821.0,1399.5 1822.4,1400.0 1823.8,1400.5 1825.2,1400.9 1826.7,1401.4 1828.1,1401.8 1829.5,1402.3 1830.9,1402.7 1832.4,1403.2 1833.8,1403.7 1835.2,1404.1 1836.7,1404.6 1838.1,1405.0 1839.5,1405.5 1840.9,1405.9 1842.4,1406.3 1843.8,1406.8 1845.2,1407.2 1846.7,1407.7 1848.1,1408.1 1849.5,1408.6 1851.0,1409.0 1852.4,1409.5 1853.8,1409.9 1855.2,1410.3 1856.7,1410.8 1858.1,1411.2 1859.5,1411.6 1861.0,1412.1 1862.4,1412.5 1863.8,1412.9 1865.3,1413.4 1866.7,1413.8 1868.1,1414.2 1869.6,1414.7 1871.0,1415.1 1872.4,1415.5 1873.9,1416.0 1875.3,1416.4 1876.8,1416.8 1878.2,1417.2 1879.6,1417.7 1881.1,1418.1 1882.5,1418.5 1883.9,1418.9 1885.4,1419.4 1886.8,1419.8 1888.2,1420.2 1889.7,1420.6 1891.1,1421.0 1892.6,1421.5 1894.0,1421.9 1895.4,1422.3 1896.9,1422.7 1898.3,1423.1 1899.7,1423.5 1901.2,1423.9 1902.6,1424.4 1904.1,1424.8 1905.5,1425.2 1906.9,1425.6 1908.4,1426.0 1909.8,1426.4 1911.3,1426.8 1912.7,1427.2 1914.1,1427.6 1915.6,1428.0 1917.0,1428.4 1918.5,1428.8 1919.9,1429.2 1921.3,1429.6 1922.8,1430.0 1924.2,1430.4 1925.7,1430.8 1927.1,1431.2 1928.6,1431.6 1930.0,1432.0 1931.4,1432.4 1932.9,1432.8 1934.3,1433.2 1935.8,1433.6 1937.2,1434.0 1938.6,1434.4 1940.1,1434.8 1941.5,1435.2 1943.0,1435.6 1944.4,1436.0 1945.9,1436.4 1947.3,1436.7 1948.8,1437.1 1950.2,1437.5 1951.6,1437.9 1953.1,1438.3 1954.5,1438.7 1956.0,1439.1 1957.4,1439.4 1958.9,1439.8 1960.3,1440.2 1961.8,1440.6 1963.2,1441.0 1964.6,1441.3 1966.1,1441.7 1967.5,1442.1 1969.0,1442.5 1970.4,1442.8 1971.9,1443.2 1973.3,1443.6 1974.8,1444.0" stroke="#3838ff" stroke-width="4.4"/>
</g>
<path d="M548.6,1704.0V1670.0M548.6,65.5V99.5M761.1,1704.0V1670.0M761.1,65.5V99.5M973.7,1704.0V1670.0M973.7,65.5V99.5M1186.2,1704.0V1670.0M1186.2,65.5V99.5M1398.8,1704.0V1670.0M1398.8,65.5V99.5M1611.4,1704.0V1670.0M1611.4,65.5V99.5M1823.9,1704.0V1670.0M1823.9,65.5V99.5M336.0,1376.3H370.0M2036.5,1376.3H2002.5M336.0,1048.6H370.0M2036.5,1048.6H2002.5M336.0,720.9H370.0M2036.5,720.9H2002.5M336.0,393.2H370.0M2036.5,393.2H2002.5" stroke="#656565" stroke-width="5.5" fill="none"/>
<rect x="336.0" y="65.5" width="1700.5" height="1638.5" fill="none" stroke="#656565" stroke-width="5.5"/>
<text x="294" y="1727.5" font-size="69.5" text-anchor="end">0</text>
<text x="294" y="1399.8" font-size="69.5" text-anchor="end">0.1</text>
<text x="294" y="1072.1" font-size="69.5" text-anchor="end">0.2</text>
<text x="294" y="744.4" font-size="69.5" text-anchor="end">0.3</text>
<text x="294" y="416.7" font-size="69.5" text-anchor="end">0.4</text>
<text x="294" y="89.0" font-size="69.5" text-anchor="end">0.5</text>
<text x="2095" y="1727.5" font-size="69.5">0</text>
<text x="2095" y="1399.8" font-size="69.5">20</text>
<text x="2095" y="1072.1" font-size="69.5">40</text>
<text x="2095" y="744.4" font-size="69.5">60</text>
<text x="2095" y="416.7" font-size="69.5">80</text>
<text x="2095" y="89.0" font-size="69.5">100</text>
<text x="345.0" y="1806" font-size="69.5" text-anchor="middle">200</text>
<text x="557.6" y="1806" font-size="69.5" text-anchor="middle">300</text>
<text x="770.1" y="1806" font-size="69.5" text-anchor="middle">400</text>
<text x="982.7" y="1806" font-size="69.5" text-anchor="middle">500</text>
<text x="1195.2" y="1806" font-size="69.5" text-anchor="middle">600</text>
<text x="1407.8" y="1806" font-size="69.5" text-anchor="middle">700</text>
<text x="1620.4" y="1806" font-size="69.5" text-anchor="middle">800</text>
<text x="1832.9" y="1806" font-size="69.5" text-anchor="middle">900</text>
<text x="2045.5" y="1806" font-size="69.5" text-anchor="middle">1000</text>
<text x="1186.5" y="1920" font-size="69.5" text-anchor="middle">Wavelength [nm]</text>
<text transform="translate(102.5,884.2) rotate(-90)" font-size="69.5" text-anchor="middle">Cherenkov photons / (nm m<tspan font-size="55.6" dy="-26">2</tspan><tspan dy="26">)</tspan></text>
<text transform="translate(2345.5,883.5) rotate(-90)" font-size="69.5" text-anchor="middle">NSB photons / (nm m<tspan font-size="55.6" dy="-26">2</tspan><tspan dy="26"> ns sr)</tspan></text>
<text x="1349" y="191.5" font-size="69.5" text-anchor="end">Cherenkov light (100 ph.)</text>
<text x="1349" y="268.5" font-size="69.5" text-anchor="end">Nightsky background</text>
<path d="M1384,168.5H1574.5" stroke="#3a3aff" stroke-width="4.5"/>
<path d="M1384,246H1574.5" stroke="#ff5a5a" stroke-width="5"/>
</g>
</svg></body></html>
